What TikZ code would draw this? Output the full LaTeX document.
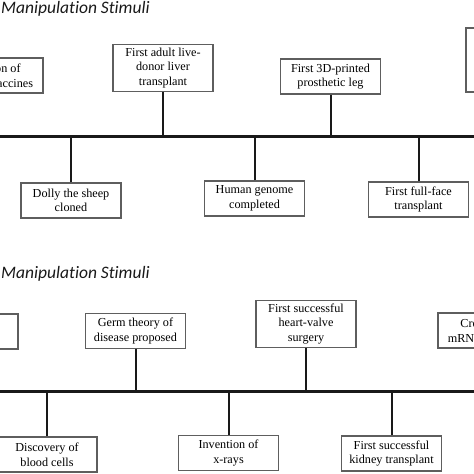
\documentclass[tikz,border=0pt]{standalone}
\usepackage{fontspec}
\setmainfont{Liberation Serif}
\newfontfamily\titlefont[Ligatures=NoCommon]{Carlito}
\definecolor{boxgray}{HTML}{5E5E5E}
\begin{document}
\begin{tikzpicture}[x=1pt,y=-1pt,
  evbox/.style={draw=boxgray, line width=1.1pt, fill=white, minimum width=100pt, minimum height=35pt,
    inner sep=3pt, align=center, font=\fontsize{12.2}{14.6}\selectfont, text=black},
  tline/.style={line width=3pt, black!90},
  conn/.style={line width=2pt, black!90},
  ttl/.style={anchor=base west, inner sep=0pt, font=\titlefont\itshape\fontsize{17.5}{20}\selectfont, text=black!90}]
\useasboundingbox (0,0) rectangle (474,474);
\clip (0,0) rectangle (474,474);

% ---------- top timeline ----------
\node[ttl] (t1) at (1,13) {Manipulation Stimuli};
\coordinate (aL) at (-20,136);
\coordinate (aR) at (494,136);

\node[evbox] (vacc) at (-7,75.5) {Creation of\\mRNA vaccines};
\node[evbox] (liver) at (163,68) {First adult live-\\donor liver\\transplant};
\node[evbox] (leg) at (330.5,76.5) {First 3D-printed\\prosthetic leg};
\node[evbox, minimum height=64pt] (tr) at (516,60) {};
\node[evbox] (dolly) at (71,200.5) {Dolly the sheep\\cloned};
\node[evbox] (genome) at (254.5,198.5) {Human genome\\completed};
\node[evbox] (face) at (418.5,199.5) {First full-face\\transplant};

\draw[conn] (vacc.south) -- (vacc.south |- aL);
\draw[conn] (liver.south) -- (liver.south |- aL);
\draw[conn] (leg.south) -- (leg.south |- aL);
\draw[conn] (tr.south) -- (tr.south |- aL);
\draw[conn] (dolly.north) -- (dolly.north |- aL);
\draw[conn] (genome.north) -- (genome.north |- aL);
\draw[conn] (face.north) -- (face.north |- aL);
\draw[tline] (aL) -- (aR);

% ---------- bottom timeline ----------
\node[ttl] (t2) at (1,278) {Manipulation Stimuli};
\coordinate (bL) at (-20,391);
\coordinate (bR) at (494,391);

\node[evbox] (lft) at (-32,331.5) {};
\node[evbox] (germ) at (135.5,331) {Germ theory of\\disease proposed};
\node[evbox] (valve) at (306,324) {First successful\\heart-valve\\surgery};
\node[evbox] (mrna) at (488,330.5) {Creation of\\mRNA vaccines};
\node[evbox] (blood) at (47,454.5) {Discovery of\\blood cells};
\node[evbox] (xray) at (228.5,453) {Invention of\\x-rays};
\node[evbox] (kidney) at (391.5,453.5) {First successful\\kidney transplant};

\draw[conn] (lft.south) -- (lft.south |- bL);
\draw[conn] (germ.south) -- (germ.south |- bL);
\draw[conn] (valve.south) -- (valve.south |- bL);
\draw[conn] (mrna.south) -- (mrna.south |- bL);
\draw[conn] (blood.north) -- (blood.north |- bL);
\draw[conn] (xray.north) -- (xray.north |- bL);
\draw[conn] (kidney.north) -- (kidney.north |- bL);
\draw[tline] (bL) -- (bR);
\end{tikzpicture}
\end{document}
